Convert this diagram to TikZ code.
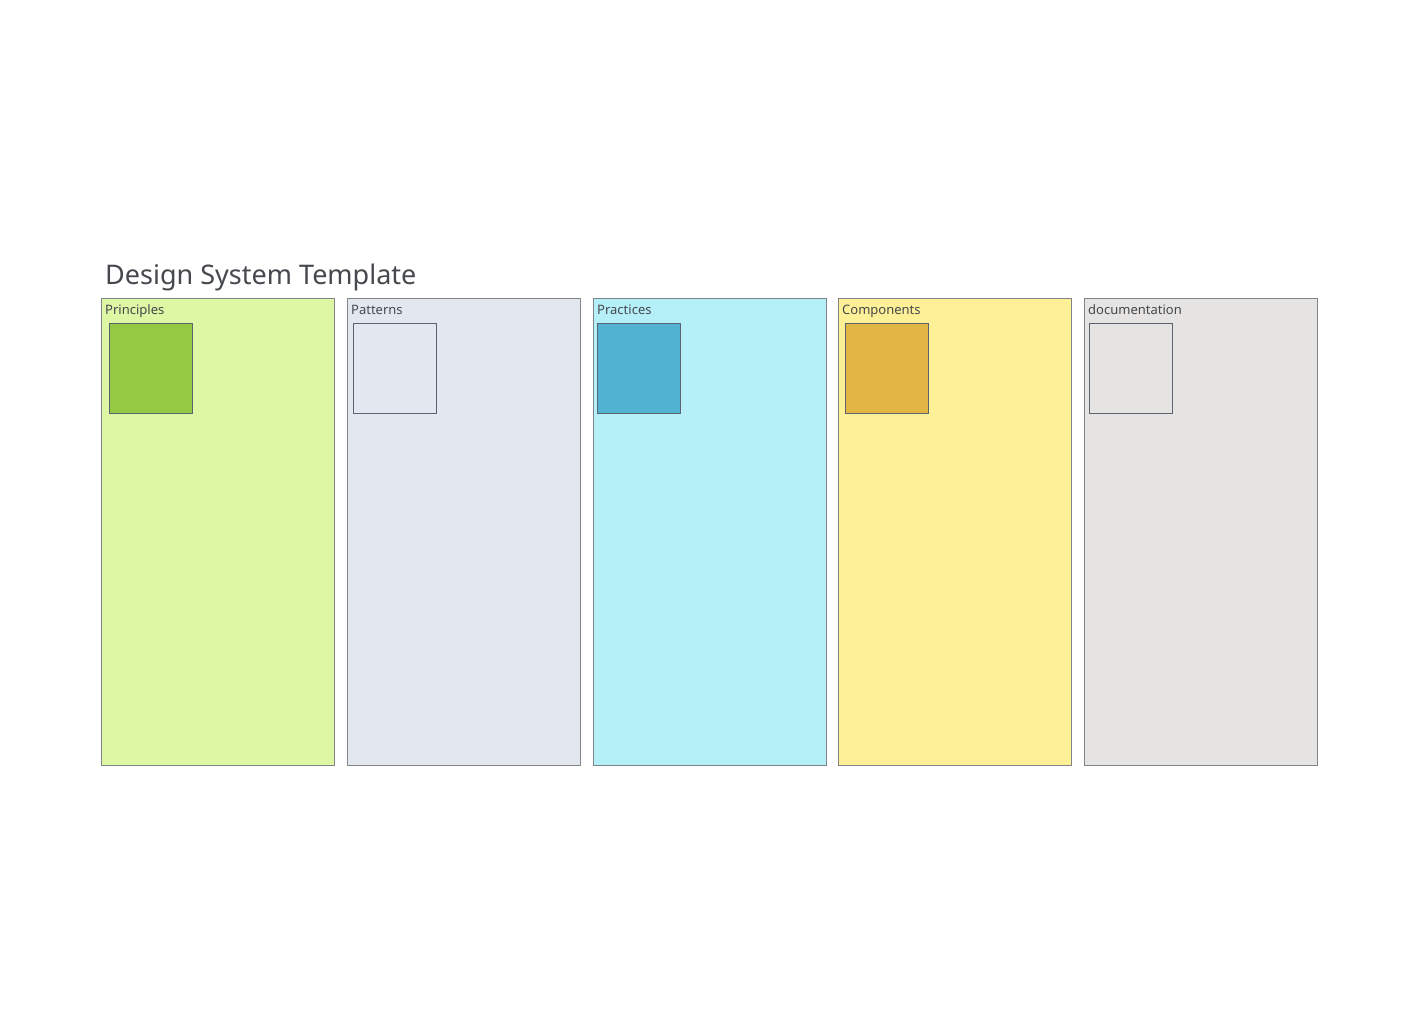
\documentclass[tikz,border=0pt]{standalone}
\usepackage{fontspec}
\setmainfont{Noto Sans}
\definecolor{txt}{HTML}{45484D}
\definecolor{frameline}{HTML}{808488}
\definecolor{innerline}{HTML}{5B6370}
\definecolor{fA}{HTML}{DEF7A5}
\definecolor{iA}{HTML}{95C843}
\definecolor{fB}{HTML}{E3E7F0}
\definecolor{fC}{HTML}{B5F0F8}
\definecolor{iC}{HTML}{52B2D2}
\definecolor{fD}{HTML}{FEF097}
\definecolor{iD}{HTML}{E2B642}
\definecolor{fE}{HTML}{E5E4E2}
\begin{document}
\begin{tikzpicture}[x=1pt,y=-1pt,
  framebox/.style={draw=frameline,line width=1pt},
  innerbox/.style={draw=innerline,line width=1pt},
  framelabel/.style={anchor=base west,inner sep=0pt,text=txt,font=\fontsize{13}{15}\selectfont},
  titlelabel/.style={anchor=base west,inner sep=0pt,text=txt,font=\fontsize{27}{32}\selectfont}]
\useasboundingbox[fill=white] (0,0) rectangle (1418,1024);
\node[titlelabel] (title) at (105,284.5) {Design System Template};
% frames
\filldraw[framebox,fill=fA] (101,298) rectangle (334,765);
\filldraw[framebox,fill=fB] (347,298) rectangle (580,765);
\filldraw[framebox,fill=fC] (593,298) rectangle (826,765);
\filldraw[framebox,fill=fD] (838,298) rectangle (1071,765);
\filldraw[framebox,fill=fE] (1084,298) rectangle (1317,765);
\node[framelabel] (l1) at (105,314.5) {Principles};
\node[framelabel] (l2) at (351,314.5) {Patterns};
\node[framelabel] (l3) at (597,314.5) {Practices};
\node[framelabel] (l4) at (842,314.5) {Components};
\node[framelabel] (l5) at (1088,314.5) {documentation};
% inner squares
\filldraw[innerbox,fill=iA] (109,323) rectangle (192,413);
\filldraw[innerbox,fill=fB] (353,323) rectangle (436,413);
\filldraw[innerbox,fill=iC] (597,323) rectangle (680,413);
\filldraw[innerbox,fill=iD] (845,323) rectangle (928,413);
\filldraw[innerbox,fill=fE] (1089,323) rectangle (1172,413);
\end{tikzpicture}
\end{document}
